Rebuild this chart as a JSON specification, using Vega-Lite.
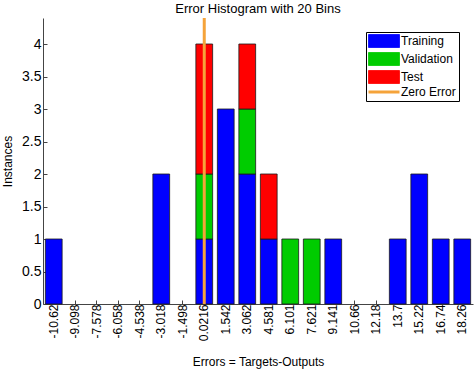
{
  "$schema": "https://vega.github.io/schema/vega-lite/v6.json",
  "autosize": {"type": "none"},
  "width": 430,
  "height": 286,
  "padding": {"left": 43, "top": 18, "right": 1, "bottom": 65},
  "background": "white",
  "title": {"text": "Error Histogram with 20 Bins", "fontSize": 13, "fontWeight": "normal", "font": "Liberation Sans", "color": "black", "offset": 4, "dy": 3, "anchor": "middle", "frame": "group"},
  "data": {"values": [
    {"bin": "-10.62", "set": "Training", "setId": 1, "count": 1},
    {"bin": "-3.018", "set": "Training", "setId": 1, "count": 2},
    {"bin": "0.0216", "set": "Training", "setId": 1, "count": 1},
    {"bin": "0.0216", "set": "Validation", "setId": 2, "count": 1},
    {"bin": "0.0216", "set": "Test", "setId": 3, "count": 2},
    {"bin": "1.542", "set": "Training", "setId": 1, "count": 3},
    {"bin": "3.062", "set": "Training", "setId": 1, "count": 2},
    {"bin": "3.062", "set": "Validation", "setId": 2, "count": 1},
    {"bin": "3.062", "set": "Test", "setId": 3, "count": 1},
    {"bin": "4.581", "set": "Training", "setId": 1, "count": 1},
    {"bin": "4.581", "set": "Test", "setId": 3, "count": 1},
    {"bin": "6.101", "set": "Validation", "setId": 2, "count": 1},
    {"bin": "7.621", "set": "Validation", "setId": 2, "count": 1},
    {"bin": "9.141", "set": "Training", "setId": 1, "count": 1},
    {"bin": "13.7", "set": "Training", "setId": 1, "count": 1},
    {"bin": "15.22", "set": "Training", "setId": 1, "count": 2},
    {"bin": "16.74", "set": "Training", "setId": 1, "count": 1},
    {"bin": "18.26", "set": "Training", "setId": 1, "count": 1}
  ]},
  "layer": [
    {
      "mark": {"type": "bar", "stroke": "#1a1a1a", "strokeWidth": 0.8},
      "encoding": {
        "x": {
          "field": "bin", "type": "nominal",
          "scale": {"domain": ["-10.62","-9.098","-7.578","-6.058","-4.538","-3.018","-1.498","0.0216","1.542","3.062","4.581","6.101","7.621","9.141","10.66","12.18","13.7","15.22","16.74","18.26"], "paddingInner": 0.22, "paddingOuter": 0.11},
          "axis": {"title": "Errors = Targets-Outputs", "labelAngle": -90, "labelAlign": "right", "labelBaseline": "middle", "labelFontSize": 12, "labelPadding": 4, "tickSize": -4, "titleFontSize": 12, "titleFontWeight": "normal", "titlePadding": 16}
        },
        "y": {
          "field": "count", "type": "quantitative", "stack": "zero",
          "scale": {"domain": [0, 4.4], "nice": false},
          "axis": {"title": "Instances", "values": [0,0.5,1,1.5,2,2.5,3,3.5,4], "format": "~g", "labelFontSize": 14, "labelPadding": 6, "tickSize": -4, "titleFontSize": 12, "titleFontWeight": "normal", "titlePadding": 7, "grid": false}
        },
        "color": {
          "field": "set", "type": "nominal",
          "scale": {"domain": ["Training", "Validation", "Test", "Zero Error"], "range": ["#0000FF", "#00CC00", "#FF0000", "#F5A33A"]},
          "legend": {
            "title": null,
            "orient": "none",
            "legendX": 323,
            "legendY": 14,
            "padding": 3,
            "strokeColor": "black",
            "fillColor": "white",
            "symbolSize": 169,
            "labelOffset": 20,
            "labelFontSize": 12,
            "labelFont": "Liberation Sans",
            "labelColor": "black",
            "rowPadding": 0,
            "encode": {
              "symbols": {
                "update": {
                  "shape": {"signal": "datum.value === 'Zero Error' ? 'M-1,0H3.77' : 'M-1,-1H3.77V1H-1Z'"},
                  "fill": {"signal": "datum.value === 'Zero Error' ? 'transparent' : scale('color', datum.value)"},
                  "stroke": {"signal": "datum.value === 'Zero Error' ? scale('color', datum.value) : '#1a1a1a'"},
                  "strokeWidth": {"signal": "datum.value === 'Zero Error' ? 3 : 0.8"},
                  "opacity": {"value": 1}
                }
              }
            }
          }
        },
        "order": {"field": "setId", "sort": "ascending"}
      }
    },
    {
      "data": {"values": [{"bin": "0.0216"}]},
      "mark": {"type": "rule", "strokeWidth": 3},
      "encoding": {
        "x": {"field": "bin", "type": "nominal"},
        "color": {
          "datum": "Zero Error",
          "legend": {
            "title": null,
            "orient": "none",
            "legendX": 323,
            "legendY": 14,
            "padding": 3,
            "strokeColor": "black",
            "fillColor": "white",
            "symbolSize": 169,
            "labelOffset": 20,
            "labelFontSize": 12,
            "labelFont": "Liberation Sans",
            "labelColor": "black",
            "rowPadding": 0,
            "encode": {
              "symbols": {
                "update": {
                  "shape": {"signal": "datum.value === 'Zero Error' ? 'M-1,0H3.77' : 'M-1,-1H3.77V1H-1Z'"},
                  "fill": {"signal": "datum.value === 'Zero Error' ? 'transparent' : scale('color', datum.value)"},
                  "stroke": {"signal": "datum.value === 'Zero Error' ? scale('color', datum.value) : '#1a1a1a'"},
                  "strokeWidth": {"signal": "datum.value === 'Zero Error' ? 3 : 0.8"},
                  "opacity": {"value": 1}
                }
              }
            }
          }
        }
      }
    }
  ],
  "config": {
    "font": "Liberation Sans",
    "view": {"stroke": null},
    "axis": {"domainColor": "#444", "tickColor": "#444", "labelColor": "black", "titleColor": "black", "labelFont": "Liberation Sans", "titleFont": "Liberation Sans"}
  }
}
